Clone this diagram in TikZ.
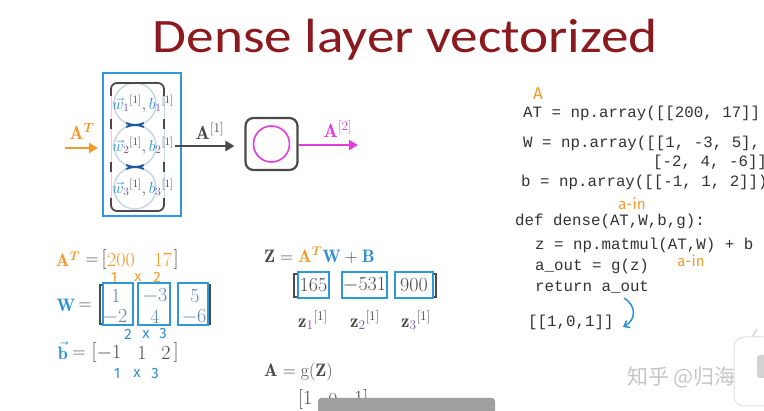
\RequirePackage{fix-cm}
\documentclass[tikz,border=0pt]{standalone}
\usepackage{amsmath,bm}
\usepackage{fontspec}
\usetikzlibrary{arrows.meta}
\newfontfamily\titlefont{Carlito}
\newfontfamily\codefont{Liberation Mono}
\newfontfamily\cjkfont{Noto Sans CJK SC}
\newfontfamily\handfont{Fira Sans}
\definecolor{titlered}{HTML}{8B1A1E}
\definecolor{orng}{HTML}{F29A2E}
\definecolor{bblue}{HTML}{2E98D8}
\definecolor{tblue}{HTML}{2F8FD0}
\definecolor{purp}{HTML}{7A4EA3}
\definecolor{dgray}{HTML}{4A4A4A}
\definecolor{codegray}{HTML}{333333}
\definecolor{mag}{HTML}{E03CE0}
\definecolor{lightcirc}{HTML}{C9D6E6}
\definecolor{junc}{HTML}{1E5C9E}
\definecolor{wgray}{HTML}{5A86B0}
\begin{document}
\begin{tikzpicture}[x=1pt,y=1pt,
  lab/.style={inner sep=0pt, font=\fontsize{16}{18}\selectfont},
  mth/.style={inner sep=0pt, font=\fontsize{18}{21}\selectfont},
  num/.style={inner sep=0pt, font=\fontsize{20}{23}\selectfont},
  big/.style={inner sep=0pt, font=\fontsize{19}{22}\selectfont},
  code/.style={inner sep=0pt, anchor=west, text=codegray, font=\codefont\fontsize{15.8}{18}\selectfont},
  hand/.style={inner sep=0pt, font=\handfont\fontsize{15}{17}\selectfont},
  arr/.style={line width=2.2pt, -{Triangle[length=9pt,width=10pt]}},
  bx/.style={draw=bblue, line width=1.8pt},
  brk/.style={draw=dgray, line width=1.8pt}
]
\useasboundingbox (0,0) rectangle (764,-411);
\clip (0,0) rectangle (764,-411);
\fill[white] (0,0) rectangle (764,-411);

% title
\node[font=\titlefont\fontsize{48}{56}\selectfont, text=titlered, anchor=base, inner sep=0, xscale=1.15] (title) at (405,-53) {Dense layer vectorized};

% ---------- network diagram ----------
\node[bx, minimum width=78pt, minimum height=143pt, inner sep=0] (layer) at (142,-144.5) {};
\coordinate (cA) at (135,-104);
\coordinate (cB) at (135,-146);
\coordinate (cC) at (135,-188);
\foreach \c in {cA,cB,cC} \draw[lightcirc, line width=1.5pt] (\c) circle (21);
\draw[junc, line width=2pt] ([shift={(245:21)}]cA) arc (245:295:21);
\draw[junc, line width=2pt] ([shift={(65:21)}]cB) arc (65:115:21);
\draw[junc, line width=2pt] ([shift={(245:21)}]cB) arc (245:295:21);
\draw[junc, line width=2pt] ([shift={(65:21)}]cC) arc (65:115:21);
\draw[dgray, line width=1.8pt, rounded corners=6] (111,-96) -- (111,-83) -- (164,-83) -- (164,-96);
\draw[dgray, line width=1.8pt, rounded corners=6] (111,-198) -- (111,-211) -- (164,-211) -- (164,-198);
\draw[lightcirc, line width=1pt] (111,-96) -- (111,-198) (164,-96) -- (164,-198);
\foreach \yy in {124,167} {
  \draw[dgray, line width=1.8pt] (111,-\yy+5) -- (111,-\yy-5);
  \draw[dgray, line width=1.8pt] (164,-\yy+5) -- (164,-\yy-5);
}
\node[lab] (w1) at (143,-104) {$\color{tblue}\vec{w}_{\color{purp}1}^{\color{dgray}[1]}\color{dgray},\color{tblue}b_{\color{purp}1}^{\color{dgray}[1]}$};
\node[lab] (w2) at (143,-146) {$\color{tblue}\vec{w}_{\color{purp}2}^{\color{dgray}[1]}\color{dgray},\color{tblue}b_{\color{purp}2}^{\color{dgray}[1]}$};
\node[lab] (w3) at (143,-188) {$\color{tblue}\vec{w}_{\color{purp}3}^{\color{dgray}[1]}\color{dgray},\color{tblue}b_{\color{purp}3}^{\color{dgray}[1]}$};

\node[draw=dgray, line width=2.2pt, rounded corners=8, minimum size=52pt, inner sep=0] (unit) at (271.5,-144) {};
\node[draw=mag, line width=1.6pt, circle, minimum size=36pt, inner sep=0] (ucirc) at (unit.center) {};

\coordinate (ain) at (65,-148);
\draw[arr, orng] (ain) -- (98,-148);
\node[big, text=orng] (lAT) at (82,-131) {$\mathbf{A}^{\bm{T}}$};
\coordinate (gstart) at (175,-146);
\draw[arr, dgray, shorten >=10pt] (gstart) -- (unit.west |- gstart);
\node[big, text=dgray] (lA1) at (210,-131) {$\mathbf{A}^{[1]}$};
\coordinate (mend) at (358,-145);
\draw[arr, mag] (unit.east |- mend) -- (mend);
\node[big, text=mag] (lA2) at (338,-129) {$\mathbf{A}^{[2]}$};

% ---------- bottom left ----------
\node[mth, text=orng] (AT) at (68,-259) {$\mathbf{A}^{\bm{T}}$};
\node[mth, text=dgray] (eq1) at (92,-261) {$=$};
\node[num, text=dgray] (lb1) at (104,-260) {$[$};
\node[num, text=orng] (n200) at (121,-260) {$200$};
\node[num, text=orng] (n17) at (163,-260) {$17$};
\node[num, text=dgray] (rb1) at (176,-260) {$]$};
\node[hand, text=orng] (h1) at (114,-277) {1};
\node[hand, text=orng] (h2) at (138,-278) {x};
\node[hand, text=orng] (h3) at (157,-277) {2};

\node[mth, text=tblue] (W) at (66,-305) {$\mathbf{W}$};
\node[mth, text=dgray] (eq2) at (85,-306) {$=$};
\draw[brk] (104,-285) -- (100,-285) -- (100,-324) -- (104,-324);
\draw[brk] (206,-285) -- (210,-285) -- (210,-324) -- (206,-324);
\node[bx, fill=white, minimum width=30pt, minimum height=42pt, inner sep=0] (col1) at (118,-304) {};
\node[bx, fill=white, minimum width=32pt, minimum height=42pt, inner sep=0] (col2) at (154,-304) {};
\node[bx, fill=white, minimum width=30pt, minimum height=42pt, inner sep=0] (col3) at (193,-304) {};
\node[num, text=wgray] at (116,-296) {$1$};
\node[num, text=wgray] at (115,-317) {$-2$};
\node[num, text=wgray] at (155,-296) {$-3$};
\node[num, text=wgray] at (155,-317) {$4$};
\node[num, text=wgray] at (195,-296) {$5$};
\node[num, text=wgray] at (194,-317) {$-6$};
\node[hand, text=tblue] (h4) at (128,-334) {2};
\node[hand, text=tblue] (h5) at (146,-335) {x};
\node[hand, text=tblue] (h6) at (163,-334) {3};

\node[mth, text=tblue] (bvec) at (63,-351) {$\vec{\mathbf{b}}$};
\node[mth, text=dgray] (eq3) at (79,-354) {$=$};
\node[num, text=dgray] (lb3) at (94,-353) {$[$};
\node[num, text=dgray] (nm1) at (109,-353) {$-1$};
\node[num, text=dgray] (np1) at (142,-353) {$1$};
\node[num, text=dgray] (np2) at (166,-353) {$2$};
\node[num, text=dgray] (rb3) at (176,-353) {$]$};
\node[hand, text=tblue] (h7) at (117,-373) {1};
\node[hand, text=tblue] (h8) at (137,-374) {x};
\node[hand, text=tblue] (h9) at (155,-373) {3};

% ---------- bottom middle ----------
\node[mth, anchor=west] (Zeq) at (264,-255) {$\color{dgray}\mathbf{Z}=\color{orng}\mathbf{A}^{\bm{T}}\color{tblue}\mathbf{W}\color{dgray}+\color{tblue}\mathbf{B}$};
\draw[brk] (298,-274) -- (294,-274) -- (294,-297) -- (298,-297);
\draw[brk] (433,-274) -- (436,-274) -- (436,-297) -- (433,-297);
\node[bx, minimum width=31pt, minimum height=26pt, inner sep=0] (z1b) at (313.5,-285) {};
\node[bx, minimum width=45pt, minimum height=26pt, inner sep=0] (z2b) at (364.5,-285) {};
\node[bx, minimum width=38pt, minimum height=26pt, inner sep=0] (z3b) at (414,-285) {};
\node[num, text=dgray] at (z1b) {$165$};
\node[num, text=dgray] at (z2b) {$-531$};
\node[num, text=dgray] at (z3b) {$900$};
\node[big, text=dgray] (z1) at (313,-320) {$\mathbf{z}_{\color{purp}1}^{[1]}$};
\node[big, text=dgray] (z2) at (365,-320) {$\mathbf{z}_{\color{purp}2}^{[1]}$};
\node[big, text=dgray] (z3) at (416,-320) {$\mathbf{z}_{\color{purp}3}^{[1]}$};
\node[mth, text=dgray, anchor=west] (Ag) at (264,-372) {$\mathbf{A}=\mathrm{g}(\mathbf{Z})$};
\node[num, text=dgray, anchor=west] (r1) at (298,-400) {$[1$};
\node[num, text=dgray] (r2) at (333,-400) {$0$};
\node[num, text=dgray, anchor=west] (r3) at (354,-400) {$1]$};
\fill[gray!75, rounded corners=3] (318,-398) rectangle (495,-420);

% ---------- code ----------
\node[hand, text=orng, font=\handfont\fontsize{17}{19}\selectfont] (hA) at (538,-94) {A};
\node[code] (c1) at (523,-113) {AT = np.array([[200, 17]]};
\node[code] (c2) at (523,-143) {W = np.array([[1, -3, 5],};
\node[code] (c3) at (653,-162) {[-2, 4, -6]]};
\node[code] (c4) at (521,-182) {b = np.array([[-1, 1, 2]])};
\node[hand, text=orng] (ain1) at (632,-204) {a-in};
\node[code] (c5) at (515,-221) {def dense(AT,W,b,g):};
\node[code] (c6) at (535,-245) {z = np.matmul(AT,W) + b};
\node[code] (c7) at (535,-266) {a\_out = g(z)};
\node[hand, text=orng] (ain2) at (691,-261) {a-in};
\node[code] (c8) at (535,-287) {return a\_out};
\node[code] (c9) at (528,-322) {[[1,0,1]]};
\coordinate (ha1) at (624,-298);
\coordinate (ha2) at (623,-327);
\draw[tblue, line width=1.5pt, -{Straight Barb[length=5pt,width=8pt]}] (ha1) .. controls (637,-306) and (636,-320) .. (ha2);

% ---------- watermarks ----------
\node[font=\cjkfont\fontsize{21}{24}\selectfont, text=gray!45, anchor=west, inner sep=0] (wm) at (627,-377) {知乎 @归海};
\draw[gray!25, line width=1pt, fill=white, rounded corners=10] (734,-337) rectangle (780,-406);
\fill[gray!35, rounded corners=3] (757,-355) rectangle (770,-378);
\draw[gray!30, line width=1.5pt] (752,-337) -- (757,-329);
\end{tikzpicture}
\end{document}
